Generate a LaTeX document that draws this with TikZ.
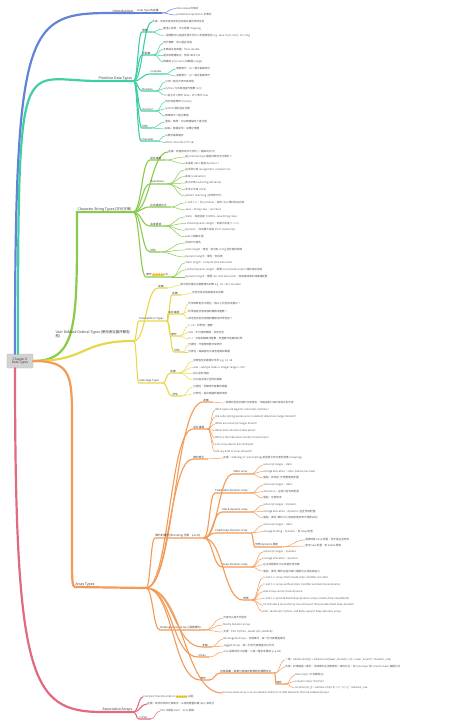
\documentclass[tikz,border=0pt]{standalone}
\usepackage{fontspec}
\setmainfont{Noto Sans CJK TC}
\usepackage{xcolor}
\usetikzlibrary{calc}
\definecolor{myblue}{RGB}{98,132,214}
\definecolor{myteal}{RGB}{64,206,166}
\definecolor{mygreen}{RGB}{136,202,74}
\definecolor{myyellow}{RGB}{234,214,76}
\definecolor{myorange}{RGB}{243,154,86}
\definecolor{mypink}{RGB}{224,106,126}
\definecolor{mytext}{RGB}{60,60,60}
\definecolor{mystar}{RGB}{245,140,30}
\setlength{\fboxsep}{0.3pt}

\tikzset{
  trunk/.style={line width=1.1mm, line cap=round},
  bough/.style={line width=0.55mm, line cap=round},
  twig/.style={line width=0.25mm, line cap=round},
  rootbox/.style={fill=gray!35, draw=gray!55, rounded corners=1pt, align=center, text=mytext,
    font=\fontsize{4.6}{5.4}\selectfont, minimum width=13mm, minimum height=7mm, inner sep=0.5pt},
  mainlbl/.style={anchor=south west, inner sep=0.6pt, text=mytext, font=\fontsize{5}{5.8}\selectfont},
  lbl/.style={anchor=south west, inner sep=0.5pt, text=mytext, font=\fontsize{3.8}{4.3}\selectfont},
  leaf/.style={anchor=west, inner sep=0.4pt, text=mytext!85, font=\fontsize{3.7}{4.2}\selectfont},
}
\newcommand\fan[3][twig]{\draw[#1] (#2) .. controls ($(#2)!.5!(#2-|#3)$) and ($(#3)!.5!(#3-|#2)$) .. (#3);}
\newcommand\sublbl[5]{%
  \node[lbl] (#1) at (#2,#3) {#4};
  \coordinate (#1F) at ([xshift=1.5mm]#1.south east);
  \draw[bough] (#5) .. controls ($(#5)!.5!(#5-|#1.south west)$) and ($(#1.south west)!.5!(#1.south west-|#5)$) .. (#1.south west) -- (#1F);}
\newcommand\leafs[5]{%
  \foreach \txt [count=\i from 0] in {#5}{
    \node[leaf] (#1\i) at (#2,{#3+#4*\i}) {\txt};
    \fan{#1}{#1\i.west}}}

\begin{document}
\begin{tikzpicture}[x=0.5mm,y=-0.5mm]
\useasboundingbox (0,0) rectangle (474,723);
\node[rootbox] (root) at (20,361) {Chapter 6\\Data Types};

%%%%%%%%%% introduction
\begin{scope}[myblue]
\node[mainlbl] (intro) at (112,13) {Introduction};
\draw[trunk] ([xshift=-2.5mm]root.north) .. controls +(0,-330) and +(-85,0) .. (intro.south west) -- ([xshift=0.5mm]intro.south east) coordinate (introF);
\sublbl{dtd}{137}{13}{Data Type 的定義}{introF}
\leafs{dtdF}{176}{8.5}{6.5}{data values 的集合, predefined operations 的集合}
\end{scope}

%%%%%%%%%% primitive
\begin{scope}[myteal]
\node[mainlbl] (prim) at (98,81) {Primitive Data Types};
\draw[trunk] ([xshift=-1mm]root.north) .. controls +(0,-314) and +(-78,0) .. (prim.south west) -- ([xshift=0.5mm]prim.south east) coordinate (primF);
\node[leaf] (primdef) at (152,22) {定義：沒有用其他資料型態來定義的資料型態};
\fan[bough]{primF}{primdef.west}
\sublbl{int}{142}{32}{整數}{primF}
\leafs{intF}{163}{29}{6.5}{數值上無限，不太需要 mapping, {一般硬體可以直接支援不同大小的整數型態 e.g. Java: byte, short, int, long}}
\sublbl{flt}{142}{55}{浮點數}{primF}
\leafs{fltF}{163}{43}{6.3}{用於實數，但只是近似值, {多數語言有兩種：float, double}, {通常依硬體格式，例如 IEEE 754}, 精確度 (precision) 與範圍 (range)}
\sublbl{cpx}{150}{74}{Complex}{primF}
\leafs{cpxF}{176}{69}{7}{實數部分：以一個浮點數表示, 虛數部分：以一個浮點數表示}
\sublbl{bool}{142}{91}{Boolean}{primF}
\leafs{boolF}{165}{82}{6.6}{只用一個位元表示真或假, {Python 允許將值當作整數 (1/0)}, {C 語言中 0 表示 false，非 0 表示 true}}
\sublbl{dec}{142}{111}{Decimal}{primF}
\leafs{decF}{165}{102}{7}{用於商業應用 (money), 以 BCD 儲存固定位數, 精確表示十進位數值}
\sublbl{eva}{142}{128}{評估}{primF}
\leafs{evaF}{165}{122}{7}{優點：精準，可以精確儲存十進位值, 缺點：範圍受限，浪費記憶體}
\sublbl{chr}{141}{141}{Character}{primF}
\leafs{chrF}{165}{136}{6.5}{以數字編碼儲存, {ASCII, Unicode (UTF-16)}}
\end{scope}

%%%%%%%%%% strings
\begin{scope}[mygreen]
\node[mainlbl] (cst) at (77,212) {Character String Types (字元字串)};
\draw[trunk] (root.east) .. controls +(45,0) and +(0,110) .. (cst.south west) -- ([xshift=0.5mm]cst.south east) coordinate (cstF);
\node[leaf] (cstdef) at (168,152) {定義：將值視為字元序列 (一連串的字元)};
\fan[bough]{cstF}{cstdef.west}
\sublbl{sdi}{150}{160}{設計議題}{cstF}
\leafs{sdiF}{185}{157}{6.5}{是 primitive type 還是特殊的字元陣列？, 長度是 static 還是 dynamic？}
\sublbl{sop}{150}{184}{Operations}{cstF}
\leafs{sopF}{185}{170}{6.5}{{指派與比較 (assignment, comparison)}, 串接 (catenation), 取子字串 (substring reference), 參考子字串 (slice), pattern matching (正規表示式)}
\sublbl{slg}{150}{207}{在各種語言中}{cstF}
\leafs{slgF}{185}{203}{6.8}{{C and C++：非 primitive，使用 char 陣列與函式庫}, {Java：String class，primitive}}
\sublbl{sln}{150}{226}{長度選項}{cstF}
\leafs{slnF}{185}{217}{6.6}{{Static：長度固定 (COBOL, Java String class)}, {Limited dynamic length：有最大長度 (C, C++)}, {Dynamic：沒有最大長度 (Perl, JavaScript)}, Ada 三種都支援}
\sublbl{sev}{150}{252}{評估}{cstF}
\leafs{sevF}{185}{243}{7}{有助於可寫性, {static length：便宜，若沒有 string 型態會很麻煩}, {Dynamic length：彈性，但昂貴}}
\sublbl{sim}{146}{277}{實作 \colorbox{myyellow}{\textcolor{mystar}{★★★★}}(x3)}{cstF}
\leafs{simF}{185}{263}{7}{{Static length：compile-time descriptor}, {Limited dynamic length：需要 run-time descriptor 儲存目前長度}, {Dynamic length：需要 run-time descriptor；使用連結串列或連續配置}}
\end{scope}

%%%%%%%%%% ordinal
\begin{scope}[myyellow]
\node[mainlbl, align=left] (udo) at (55,339) {User Defined Ordinal Types (使用者定義序數型\\態)};
\coordinate (udoF) at (134,341);
\draw[trunk] (root.east) .. controls +(55,0) and +(-55,0) .. (udoF);
\sublbl{odf}{158}{288}{定義}{udoF}
\leafs{odfF}{180}{285}{1}{{將可能的值與正整數集合對應 e.g. int, char, boolean}}
\sublbl{enm}{139}{321}{Enumeration Types}{udoF}
\sublbl{edf}{172}{295}{定義}{enmF}
\leafs{edfF}{192}{293}{1}{所有可能的值都是具名常數}
\sublbl{edi}{168}{314}{設計議題}{enmF}
\leafs{ediF}{188}{304}{7.5}{列舉常數能否出現在一個以上的型態定義中？, 列舉值是否會被強制轉換成整數？, 其他型態能否被強制轉換成列舉型態？}
\sublbl{eim}{171}{336}{實作}{enmF}
\leafs{eimF}{188}{326}{6.5}{{C, C\#：列舉值 = 整數}, {Ada：不可強制轉換，型態安全}, {C++：可強制轉換成整數，但整數不能轉成列舉}}
\sublbl{eev}{174}{352}{評估}{enmF}
\leafs{eevF}{188}{345}{7}{可讀性：不需要用數字來表示, 可靠性：編譯器可以檢查運算與範圍}
\sublbl{sub}{139}{383}{Subrange Types}{udoF}
\sublbl{sdf}{170}{373}{定義}{subF}
\leafs{sdfF}{193}{361}{6.3}{{序數型態的連續子序列 e.g. 12..18}, {Ada：subtype Index is Integer range 1..100;}, 與父型態相容, 可以指派給父型態的變數}
\sublbl{bev}{172}{396}{評估}{subF}
\leafs{bevF}{193}{387}{7}{可讀性：明確表示變數的範圍, 可靠性：超出範圍時會被偵測}
\end{scope}

%%%%%%%%%% arrays
\begin{scope}[myorange]
\node[mainlbl] (arr) at (75,587) {Array Types};
\coordinate (arrF) at (146,588);
\draw[trunk] (root.east) .. controls +(38,0) and +(0,-45) .. (72,420) -- (72,550) .. controls (72,580) and (72,587) .. (arr.south west) -- (arrF);
\sublbl{adf}{203}{402}{定義}{arrF}
\leafs{adfF}{223}{403}{1}{一群相同型態的資料元素集合，可藉由索引來存取其中的元素}
\sublbl{adi}{193}{429}{設計議題}{arrF}
\leafs{adiF}{215}{410}{7}{What types are legal for subscripts (indices)?, Are subscripting expressions in element references range checked?, When are subscript ranges bound?, When does allocation take place?, What is the maximum number of subscripts?, Can array objects be initialized?, Are any kind of slices allowed?}
\sublbl{aix}{193}{459}{陣列索引}{arrF}
\leafs{aixF}{223}{458}{1}{{定義：indexing (or subscripting) 是從索引到元素的對應 (mapping)}}
\sublbl{acat}{155}{538}{陣列的類別 (依 binding 分類，p.6-20)}{arrF}
\sublbl{ast}{233}{474}{Static array}{acatF}
\leafs{astF}{263}{465}{6.5}{{subscript ranges：static}, {storage allocation：static (before run-time)}, 優點：效率佳 (不需要動態配置)}
\sublbl{afs}{215}{493}{Fixed stack-dynamic array}{acatF}
\leafs{afsF}{263}{485}{6.5}{{subscript ranges：static}, {allocation：在執行宣告時配置}, 優點：空間效率}
\sublbl{asd}{222}{512}{Stack-dynamic array}{acatF}
\leafs{asdF}{263}{505}{6.5}{{subscript ranges：dynamic}, {storage allocation：dynamic (在宣告時配置)}, 優點：彈性 (陣列大小直到被使用時才需要決定)}
\sublbl{afh}{215}{533}{Fixed heap-dynamic array}{acatF}
\leafs{afhF}{263}{525}{6.5}{{subscript ranges：static}, {storage binding：dynamic，從 heap 配置}}
\sublbl{awh}{255}{547}{何時 dynamic 綁定}{afhF}
\leafs{awhF}{305}{540}{6}{{需要時從 heap 配置，而不是在宣告時}, {使用 new 配置，用 delete 釋放}}
\sublbl{ahd}{222}{567}{Heap-dynamic array}{acatF}
\leafs{ahdF}{263}{552}{6.4}{{subscript ranges：dynamic}, {storage allocation：dynamic}, 在生命週期中可以改變任意次數, 優點：彈性 (陣列在程式執行期間可以增長或縮小)}
\sublbl{aex}{243}{600}{舉例}{acatF}
\leafs{aexF}{263}{578}{6.8}{C and C++ arrays that include static modifier are static, C and C++ arrays without static modifier are fixed stack-dynamic, Ada arrays can be stack-dynamic, {C and C++ provide fixed heap-dynamic arrays (malloc/free, new/delete)}, C\# includes a second array class ArrayList that provides fixed heap-dynamic, {Perl, JavaScript, Python, and Ruby support heap-dynamic arrays}}
\sublbl{ahe}{160}{630}{Heterogeneous Arrays (異質陣列)}{arrF}
\leafs{aheF}{223}{618}{7}{元素可以是不同型態, Mostly dynamic arrays, {支援：Perl, Python, JavaScript, and Ruby}}
\sublbl{amd}{202}{647}{多維}{arrF}
\leafs{amdF}{223}{639}{7}{{Rectangular Arrays：多維陣列，每一列元素數量相同}, Jagged Arrays：每一列的元素數量可以不同}
\sublbl{asl}{198}{657}{Slices}{arrF}
\leafs{aslF}{223}{652}{1}{{slice 是陣列的子結構，只是一種參考機制 (p.6-38)}}
\sublbl{aim}{200}{680}{實作}{arrF}
\sublbl{aacc}{220}{673}{存取函數：將索引表達式對應到記憶體位址}{aimF}
\leafs{aaccF}{285}{660}{7}{{一維：address(list[k]) = address(list[lower\_bound]) + ((k - lower\_bound) * element\_size)}, {多維：記憶體是一維的，多維陣列必須對應到一維的位址，有 row major 與 column major 兩種方式}}
\sublbl{asto}{276}{684}{儲存}{aaccF}
\leafs{astoF}{295}{675}{6.5}{Row major (大多數語言), Column major (Fortran), {location(a[i,j]) = address of a[0,0] + ((i * n) + j) * element\_size}}
\node[leaf] (aasc) at (222,693) {An associative array is an unordered collection of data elements that are indexed by keys};
\fan[bough]{arrF}{aasc.west}
\end{scope}

%%%%%%%%%% associative
\begin{scope}[mypink]
\node[mainlbl] (asc) at (102,712) {Associative Arrays};
\draw[trunk] ([xshift=-2.5mm]root.south) .. controls +(0,310) and +(-72,0) .. (asc.south west) -- ([xshift=0.5mm]asc.south east) coordinate (ascF);
\node[leaf] (acx) at (143,697) {Complex Time Description \colorbox{myyellow}{\textcolor{mystar}{★★★★}}(x3題)};
\fan[bough]{ascF}{acx.west}
\node[leaf] (adef) at (147,704) {定義：無序的資料元素集合，以相同數量的鍵 (key) 來索引};
\fan[bough]{ascF}{adef.west}
\sublbl{aperl}{139}{719}{in Perl}{ascF}
\leafs{aperlF}{160}{711}{1}{{Perl 中稱為 hash，以 \% 開頭}}
\end{scope}
\end{tikzpicture}
\end{document}
